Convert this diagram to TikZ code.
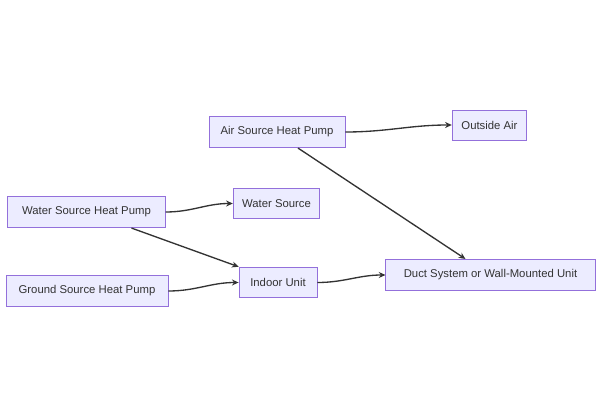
\documentclass[tikz,border=0pt]{standalone}
\usepackage{fontspec}
\setmainfont{Liberation Sans}
\usetikzlibrary{arrows.meta,calc}
\definecolor{nfill}{HTML}{ECECFF}
\definecolor{nbord}{HTML}{9370DB}
\definecolor{ntext}{HTML}{333333}
\begin{document}
\begin{tikzpicture}[x=0.75pt,y=-0.75pt,
  box/.style={draw=nbord,fill=nfill,text=ntext,font=\fontsize{8.5}{10}\selectfont,line width=0.6pt,inner sep=0pt,minimum height=23.5pt,anchor=center},
  conn/.style={draw=ntext,line width=1pt,-{Stealth[length=5pt,width=4.5pt]}}]
\useasboundingbox[fill=white] (0,0) rectangle (600,417);
\node[box,minimum width=102pt] (air) at (277,132) {Air Source Heat Pump};
\node[box,minimum width=56pt,minimum height=22.5pt] (out) at (489.5,125) {Outside Air};
\node[box,minimum width=118pt] (wat) at (86.5,212) {Water Source Heat Pump};
\node[box,minimum width=65pt,minimum height=23pt] (ws) at (276.5,203.5) {Water Source};
\node[box,minimum width=121.5pt] (gr) at (87,291) {Ground Source Heat Pump};
\node[box,minimum width=58.5pt,minimum height=23pt] (ind) at (278,282.5) {Indoor Unit};
\node[box,minimum width=157pt] (duct) at (490.5,275) {Duct System or Wall-Mounted Unit};
\draw[conn] (air.east) to[out=0,in=180] (out.west);
\draw[conn] ($(air.south)+(21,0)$) -- ($(duct.north west)+(80,0)$);
\draw[conn] (wat.east) to[out=0,in=180] (ws.west);
\draw[conn] ($(wat.south)+(45,0)$) -- (ind.north west);
\draw[conn] (gr.east) to[out=0,in=180] (ind.west);
\draw[conn] (ind.east) to[out=0,in=180] (duct.west);
\end{tikzpicture}
\end{document}
